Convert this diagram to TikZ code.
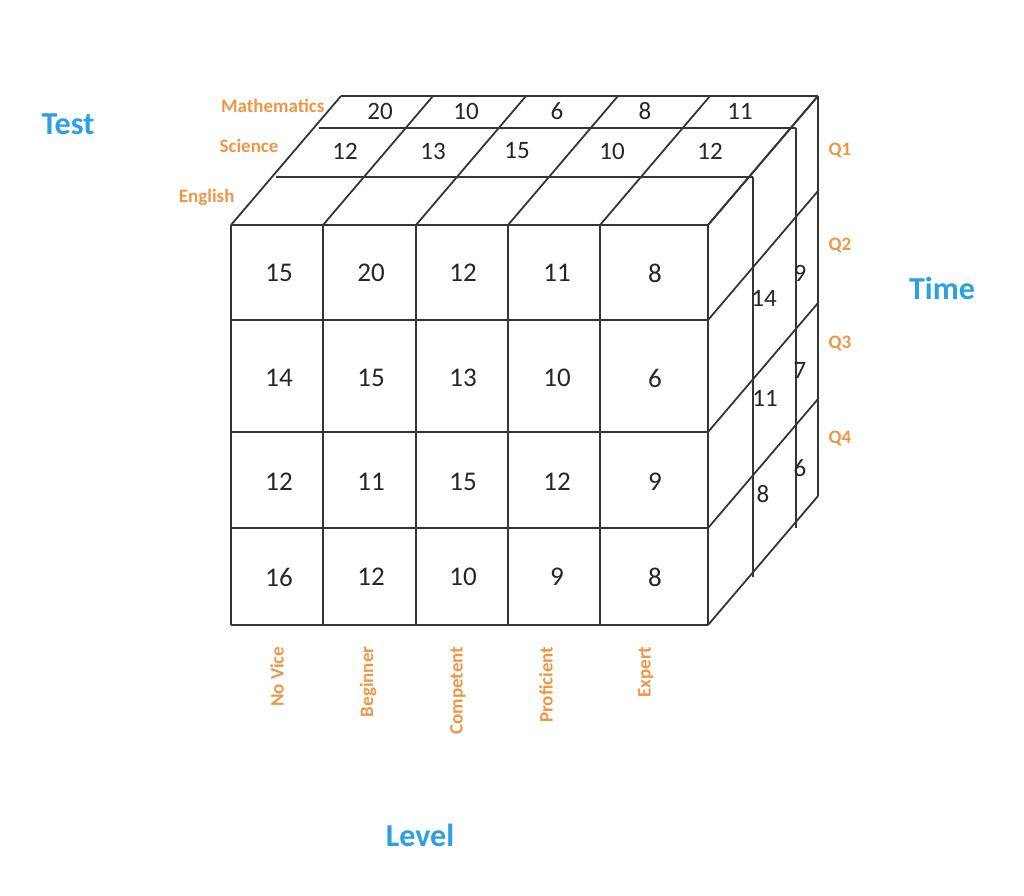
\documentclass[tikz,border=0pt]{standalone}
\usepackage{fontspec}
\setmainfont{Carlito}
\definecolor{lor}{RGB}{238,150,70}
\definecolor{lbl}{RGB}{45,160,225}
\definecolor{ln}{RGB}{50,55,50}
\begin{document}
\begin{tikzpicture}[x=1pt,y=-1pt,
  grid/.style={draw=ln,line width=1.8pt,line join=round},
  num/.style={font=\fontsize{27}{27}\selectfont,text=black!85},
  tnum/.style={font=\fontsize{25}{25}\selectfont,text=black!85},
  olab/.style={font=\fontsize{19}{19}\selectfont\bfseries,text=lor},
  blab/.style={font=\fontsize{32}{32}\selectfont\bfseries,text=lbl}]
\useasboundingbox (0,0) rectangle (1024,895);
\def\xs{{231,323,416,508,600,708}}
\def\ys{{225,320,432,528,625}}
\def\dx{{0,45,88,110}}
\def\dy{{0,-48,-97,-129}}
% front face
\foreach \i in {0,...,5}{\pgfmathsetmacro\x{\xs[\i]}\draw[grid] (\x,225)--(\x,625);}
\foreach \j in {0,...,4}{\pgfmathsetmacro\y{\ys[\j]}\draw[grid] (231,\y)--(708,\y);}
% top and side faces
\foreach \k in {1,2,3}{\pgfmathsetmacro\a{\dx[\k]}\pgfmathsetmacro\b{\dy[\k]}
  \draw[grid] (231+\a,225+\b)--(708+\a,225+\b);
  \draw[grid] (708+\a,225+\b)--(708+\a,625+\b);}
\foreach \i in {0,...,5}{\pgfmathsetmacro\x{\xs[\i]}\draw[grid] (\x,225)--(\x+110,225-129);}
\foreach \j in {0,...,4}{\pgfmathsetmacro\y{\ys[\j]}\draw[grid] (708,\y)--(708+110,\y-129);}
% front numbers
\foreach \r/\y/\vals in {0/273/{15,20,12,11,8},1/378/{14,15,13,10,6},2/482/{12,11,15,12,9},3/577/{16,12,10,9,8}}{
 \foreach \v/\x [count=\c] in \vals {
  \pgfmathsetmacro\xx{{279,371,463,557,655}[\c-1]}
  \node[num] (f\r\c) at (\xx,\y) {\v};}}
% top numbers
\foreach \v/\x [count=\n] in {20/380,10/466,6/557,8/645,11/740}{\node[tnum] (m\n) at (\x,111) {\v};}
\foreach \v/\x [count=\n] in {12/345,13/433,15/517,10/612,12/710}{\node[tnum] (s\n) at (\x,151) {\v};}
% side numbers
\node[tnum] (r1) at (764,298) {14};
\node[tnum] (r2) at (765,398) {11};
\node[tnum] (r3) at (763,494) {8};
\node[tnum] (r4) at (800,273) {9};
\node[tnum] (r5) at (800,370) {7};
\node[tnum] (r6) at (800,468) {6};
% labels
\node[olab,anchor=east] (lm) at (328,106) {Mathematics};
\node[olab,anchor=east] (ls) at (282,146) {Science};
\node[olab,anchor=east] (le) at (238,197) {English};
\foreach \t/\y in {Q1/150,Q2/245,Q3/343,Q4/438}{\node[olab] (\t) at (840,\y) {\t};}
\foreach \t/\x [count=\n] in {No Vice/277,Beginner/368,Competent/458,Proficient/546,Expert/646}{
  \node[olab,rotate=90,anchor=east] (v\n) at (\x,643) {\t};}
\node[blab] (test) at (68,124) {Test};
\node[blab] (time) at (942,288) {Time};
\node[blab] (level) at (420,835) {Level};
\end{tikzpicture}
\end{document}
